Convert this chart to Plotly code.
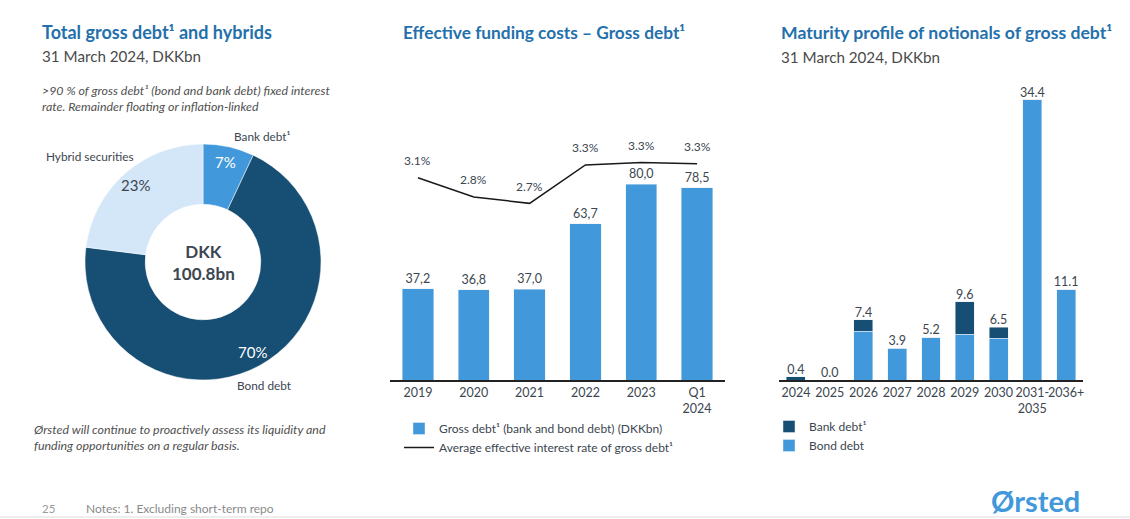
import math
import plotly.graph_objects as go

# ---------------- data ----------------
pie_labels = ["Bank debt¹", "Bond debt", "Hybrid securities"]
pie_shares = [7, 70, 23]
pie_text_colors = ["white", "white", "#3C4650"]
pie_total_label = "DKK<br>100.8bn"

funding_years = ["2019", "2020", "2021", "2022", "2023", "Q1<br>2024"]
gross_debt = [37.2, 36.8, 37.0, 63.7, 80.0, 78.5]
interest_rate = [3.10, 2.80, 2.70, 3.30, 3.34, 3.32]

maturity_cats = ["2024", "2025", "2026", "2027", "2028", "2029", "2030", "2031-<br>2035", "2036+"]
bond_debt = [0.0, 0.0, 6.0, 3.9, 5.2, 5.6, 5.1, 34.4, 11.1]
bank_debt = [0.4, 0.0, 1.4, 0.0, 0.0, 4.0, 1.4, 0.0, 0.0]

# ---------------- style ----------------
FONT = "Lato"
BLUE = "#4199DB"
NAVY = "#174E73"
LIGHT = "#D4E7F9"
TITLE = "#2470AC"
GREY = "#3C4650"
W, H = 1130, 519


def px(x):
    return x / W


def py(y):
    return 1 - y / H


# donut geometry (pixels)
CX, CY, R = 203, 262, 118

fig = go.Figure()

# Donut
fig.add_trace(go.Pie(
    labels=pie_labels, values=pie_shares, sort=False, direction="clockwise",
    hole=0.49, domain=dict(x=[px(CX - R), px(CX + R)], y=[py(CY + R), py(CY - R)]),
    marker=dict(colors=[BLUE, NAVY, LIGHT], line=dict(color="white", width=0.5)),
    textinfo="none", showlegend=False, hoverinfo="label+percent",
))

# Funding costs
fig.add_trace(go.Bar(
    x=funding_years, y=gross_debt, xaxis="x", yaxis="y",
    marker=dict(color=BLUE), name="Gross debt¹ (bank and bond debt) (DKKbn)",
    text=[f"{v:.1f}".replace(".", ",") for v in gross_debt], textposition="outside",
    textfont=dict(family=FONT, size=12.5, color=GREY), cliponaxis=False,
    legend="legend",
))
fig.add_trace(go.Scatter(
    x=funding_years, y=interest_rate, xaxis="x", yaxis="y2", mode="lines",
    line=dict(color="#1a1a1a", width=1.5),
    name="Average effective interest rate of gross debt¹", legend="legend",
))

# Maturity profile
fig.add_trace(go.Bar(
    x=maturity_cats, y=bond_debt, xaxis="x2", yaxis="y3", name="Bond debt",
    marker=dict(color=BLUE), legend="legend2",
))
fig.add_trace(go.Bar(
    x=maturity_cats, y=bank_debt, xaxis="x2", yaxis="y3", name="Bank debt¹",
    marker=dict(color=NAVY), legend="legend2",
))
totals = [round(a + b, 1) for a, b in zip(bond_debt, bank_debt)]
fig.add_trace(go.Scatter(
    x=maturity_cats, y=totals, xaxis="x2", yaxis="y3", mode="text",
    text=[f"{v:.1f}" for v in totals], textposition="top center",
    textfont=dict(family=FONT, size=12.5, color=GREY), cliponaxis=False,
    showlegend=False, hoverinfo="skip",
))

annotations = []


def note(x, y, text, size=12, color=GREY, bold=False, italic=False, xanchor="left", yanchor="middle", align="left"):
    if bold:
        text = f"<b>{text}</b>"
    if italic:
        text = f"<i>{text}</i>"
    annotations.append(dict(
        x=px(x), y=py(y), xref="paper", yref="paper", text=text, showarrow=False,
        xanchor=xanchor, yanchor=yanchor, align=align,
        font=dict(family=FONT, size=size, color=color),
    ))


# Titles
note(40, 32, "Total gross debt¹ and hybrids", size=18, color=TITLE, bold=True)
note(40, 56, "31 March 2024, DKKbn", size=15.2, color="#4a4a4a")
note(40, 81, ">90 % of gross debt¹ (bond and bank debt) fixed interest<br>rate. Remainder floating or inflation-linked",
     size=12.4, color="#505050", italic=True, yanchor="top")
note(401, 32, "Effective funding costs – Gross debt¹", size=17.3, color=TITLE, bold=True)
note(779, 32, "Maturity profile of notionals of gross debt¹", size=17.6, color=TITLE, bold=True)
note(779, 57, "31 March 2024, DKKbn", size=15.2, color="#4a4a4a")

# Donut percentages, placed along each slice's mid-angle
total_share = sum(pie_shares)
start = 0.0
for share, col in zip(pie_shares, pie_text_colors):
    mid = (start + share / 2) / total_share * 2 * math.pi
    start += share
    r = 0.87 * R
    note(CX + r * math.sin(mid), CY - r * math.cos(mid), f"{share}%", size=15, color=col, xanchor="center")

# Donut labels
note(262, 137, "Bank debt¹", size=11.8, xanchor="center")
note(90, 156, "Hybrid securities", size=11.8, xanchor="center")
note(264, 385, "Bond debt", size=11.8, xanchor="center")
note(CX, CY, pie_total_label, size=17, color=GREY, bold=True, xanchor="center", align="center")

# Bottom notes
note(32, 420, "Ørsted will continue to proactively assess its liquidity and<br>funding opportunities on a regular basis.",
     size=12.4, color="#505050", italic=True, yanchor="top")
note(40, 508, "25", size=11.5, color="#9a9a9a")
note(84, 508, "Notes: 1. Excluding short-term repo", size=12, color="#8a8a8a")
note(1035, 500, "Ørsted", size=29, color=BLUE, bold=True, xanchor="center")

# Line labels (x by category index)
for i, v in enumerate(interest_rate):
    annotations.append(dict(
        x=i, y=v, xref="x", yref="y2", text=f"{v:.1f}%", showarrow=False,
        yshift=17, font=dict(family=FONT, size=12, color=GREY),
    ))

axis_common = dict(type="category", showline=True, linecolor="#222", linewidth=1.5,
                   ticks="", showgrid=False, zeroline=False, tickangle=0,
                   tickfont=dict(family=FONT, size=12.5, color=GREY))

fig.update_layout(
    width=W, height=H, margin=dict(l=0, r=0, t=0, b=0),
    paper_bgcolor="white", plot_bgcolor="rgba(0,0,0,0)",
    font=dict(family=FONT, color=GREY),
    barmode="stack", bargap=0.44,
    xaxis=dict(domain=[px(390), px(725)], anchor="y", range=[-0.5, len(funding_years) - 0.5],
               **axis_common),
    yaxis=dict(domain=[py(380), py(140)], range=[0, 97.96], visible=False),
    yaxis2=dict(overlaying="y", range=[-0.06, 3.69], visible=False),
    xaxis2=dict(domain=[px(779), px(1083)], anchor="y3", range=[-0.5, len(maturity_cats) - 0.5],
                **axis_common),
    yaxis3=dict(domain=[py(380), py(90)], range=[0, 35.58], visible=False),
    legend=dict(x=px(399), y=py(414), xanchor="left", yanchor="top", traceorder="normal",
                font=dict(family=FONT, size=12, color=GREY), bgcolor="rgba(0,0,0,0)",
                tracegroupgap=0, itemwidth=30),
    legend2=dict(x=px(769), y=py(412), xanchor="left", yanchor="top", traceorder="reversed",
                 font=dict(family=FONT, size=12, color=GREY), bgcolor="rgba(0,0,0,0)",
                 tracegroupgap=0, itemwidth=30),
    annotations=annotations,
    shapes=[dict(type="line", xref="paper", yref="paper", x0=0, x1=1, y0=py(517), y1=py(517),
                 line=dict(color="#eeeeee", width=2))],
)

fig.write_html("out.html")
